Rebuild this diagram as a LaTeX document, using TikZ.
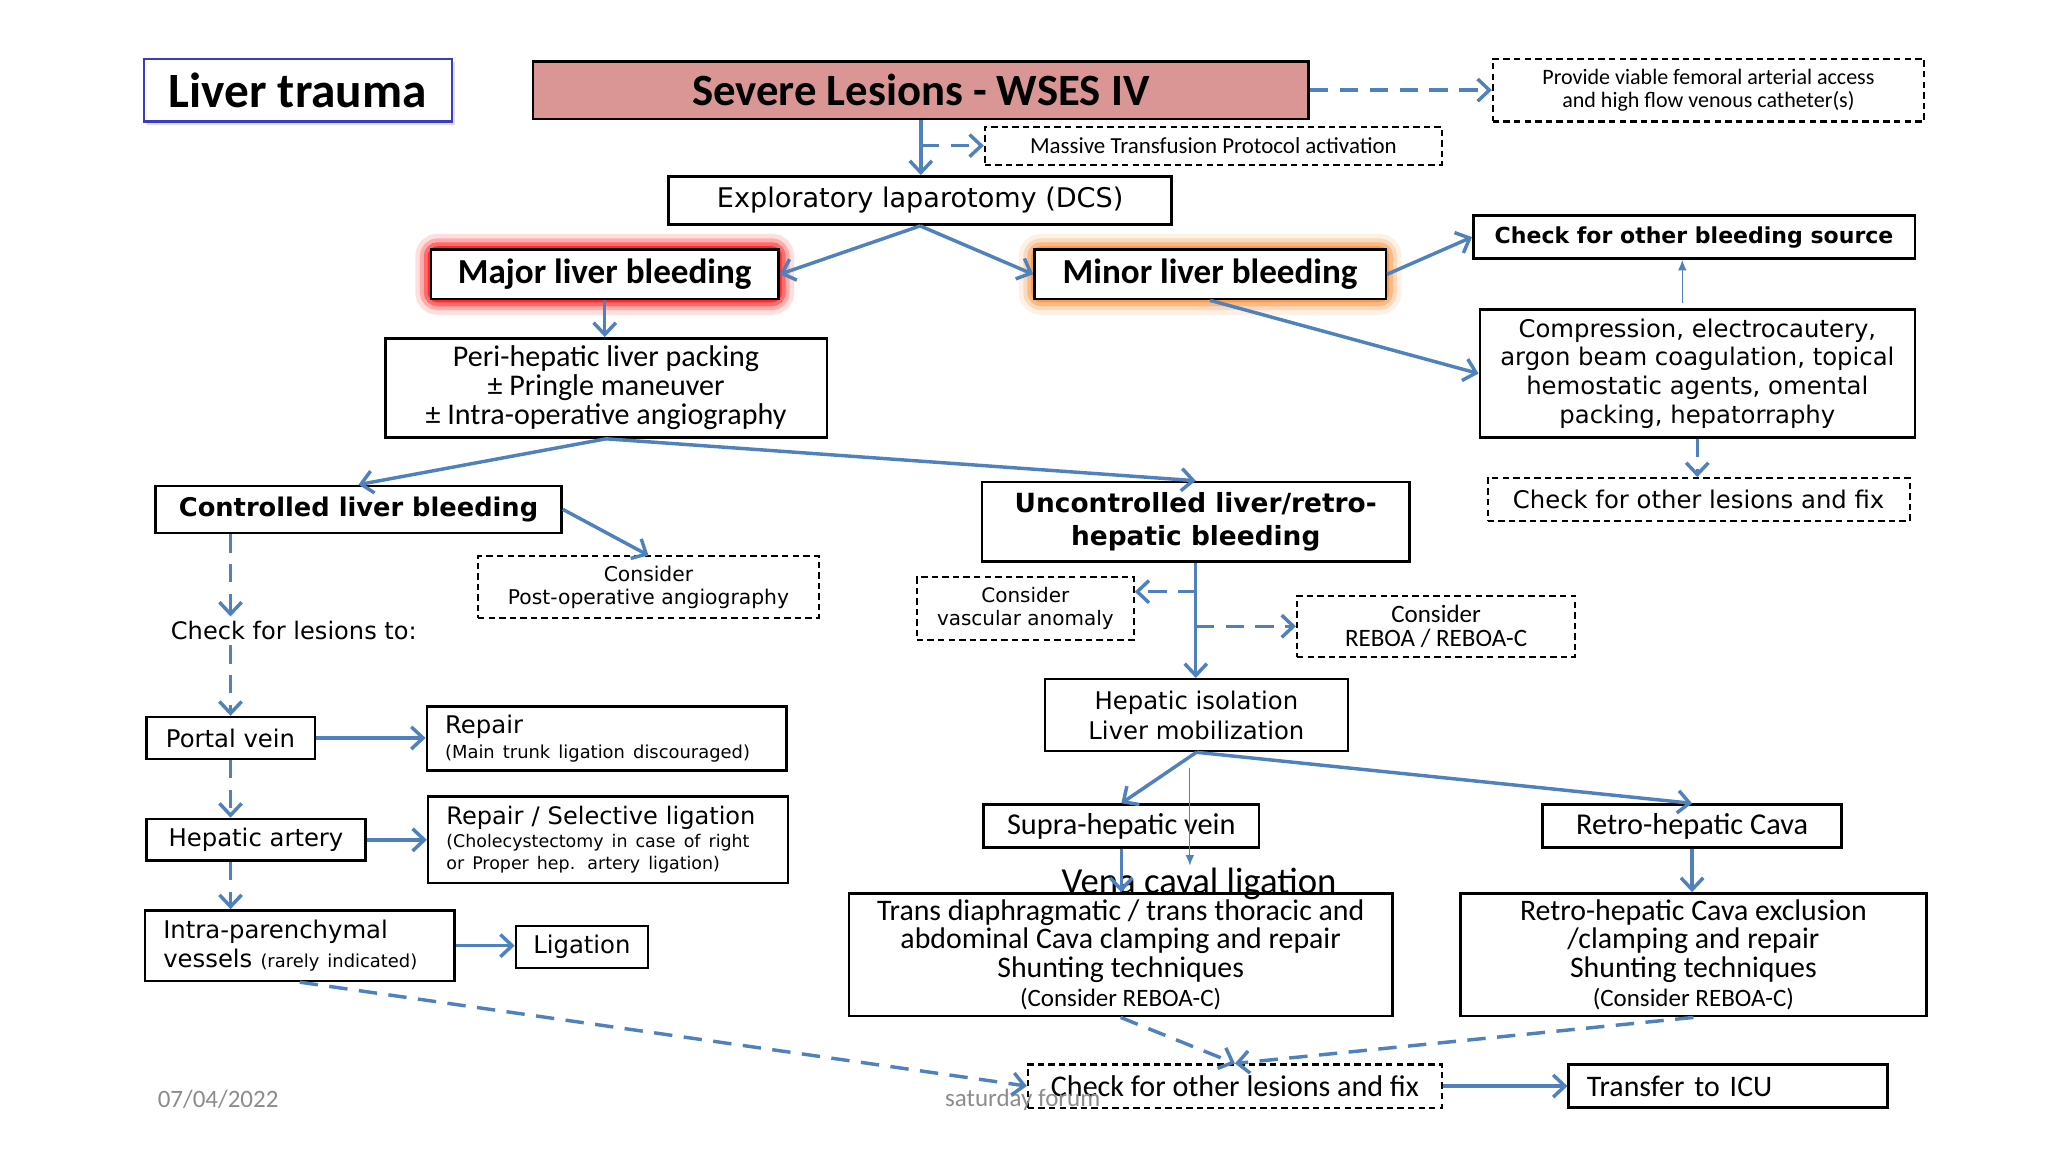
\documentclass[tikz,border=0pt]{standalone}
\usepackage{fontspec}
\setmainfont{Carlito}
\newfontfamily\verdfont{DejaVu Sans}
\usetikzlibrary{arrows.meta,positioning,shadows}
\definecolor{trInk}{HTML}{000000}
\definecolor{trBlue}{HTML}{4F81BD}
\definecolor{trRose}{HTML}{D99694}
\definecolor{trTitle}{HTML}{3B3BC8}
\definecolor{trRed}{HTML}{FF1A1A}
\definecolor{trOrange}{HTML}{F79646}
\definecolor{trGray}{HTML}{8C8C8C}
\newcommand\fsz[2]{\fontsize{#1}{#2}\selectfont}
\tikzset{
  every picture/.style={text=trInk},
  wh/.style 2 args={minimum width=#1*0.02cm, minimum height=#2*0.02cm},
  tr box/.style={draw=trInk, line width=1.1pt, fill=white, align=center, inner sep=0pt},
  tr dashbox/.style={draw=trInk, line width=0.9pt, dash pattern=on 2.8pt off 1.8pt,
    align=center, inner sep=0pt},
  tr leftbox/.style={tr box, align=left, inner xsep=0.28cm, text width=#1},
  tr title/.style={draw=trTitle, line width=0.9pt, fill=white, inner sep=0pt,
    drop shadow={shadow xshift=1.5pt, shadow yshift=-1.5pt, fill=trTitle!30, opacity=0.5}},
  tr arrow/.style={-{Straight Barb[length=1.8mm,width=3.4mm]},
    draw=trBlue, line width=1.5pt},
  tr dash arrow/.style={tr arrow, dash pattern=on 8pt off 5pt},
  tr thin/.style={-{Latex[length=1.6mm,width=1.3mm]}, draw=trBlue, line width=0.5pt},
  tr foot/.style={text=trGray, font=\fsz{10.9}{12}}
}
\begin{document}
\begin{tikzpicture}[x=0.02cm,y=-0.02cm]
  \fill[white] (0,0) rectangle (1568,882);
  \useasboundingbox (0,0) rectangle (1568,882);
  % glow round the two bleeding boxes
  \foreach \w/\o in {24/0.14,17/0.25,11/0.45,5/0.8}{
    \draw[trRed, line width=\w*0.02cm, opacity=\o, rounded corners=3pt] (330,191) rectangle (596,229);
    \draw[trOrange, line width=\w*0.02cm, opacity=\o, rounded corners=3pt] (792,191) rectangle (1061,229);
  }

  \node[tr title, wh={236}{48}, font=\fsz{21.5}{24}\bfseries] (title) at (228,69) {Liver trauma};
  \node[tr box, fill=trRose, wh={594}{44}, font=\fsz{19.5}{22}\bfseries] (severe) at (705,69) {Severe Lesions - WSES IV};
  \node[tr dashbox, wh={330}{48}, font=\fsz{9.6}{10.2}] (femoral) at (1308,69) {Provide viable femoral arterial access\\and high flow venous catheter(s)};
  \node[tr dashbox, wh={350}{29}, font=\fsz{10}{12}] (mtp) at (929,111.5) {Massive Transfusion Protocol activation};
  \node[tr box, wh={385}{37}, font=\verdfont\fsz{11.8}{14}] (explap) at (704.5,153.5) {Exploratory laparotomy (DCS)};
  \node[tr box, wh={266}{38}, font=\fsz{15.3}{18}\bfseries] (major) at (463,210) {Major liver bleeding};
  \node[tr box, wh={269}{38}, font=\fsz{15.3}{18}\bfseries] (minor) at (926.5,210) {Minor liver bleeding};
  \node[tr box, wh={338}{33}, font=\verdfont\fsz{9.6}{12}\bfseries] (bleedsrc) at (1297,181.5) {Check for other bleeding source};
  \node[tr box, wh={333}{98}, font=\verdfont\fsz{10.6}{12.5}] (compr) at (1299.5,286) {Compression, electrocautery,\\argon beam coagulation, topical\\hemostatic agents, omental\\packing, hepatorraphy};
  \node[tr dashbox, wh={323}{33}, font=\verdfont\fsz{10.6}{12}] (fixtop) at (1300.5,382.5) {Check for other lesions and fix};
  \node[tr box, wh={338}{76}, font=\fsz{13.1}{12.6}] (peri) at (464,297) {Peri-hepatic liver packing\\± Pringle maneuver\\± Intra-operative angiography};

  \node[tr box, wh={311}{36}, font=\verdfont\fsz{11.2}{13}\bfseries] (ctrl) at (274.5,390) {Controlled liver bleeding};
  \node[tr dashbox, wh={261}{47}, font=\verdfont\fsz{8.85}{10.2}] (postop) at (496.5,449.5) {Consider\\Post-operative angiography};
  \node[anchor=west, inner sep=2pt, font=\verdfont\fsz{10.5}{12}] (checkto) at (127,483) {Check for lesions to:};
  \node[tr box, wh={129}{32}, font=\verdfont\fsz{10.6}{12}] (portal) at (176.5,565) {Portal vein};
  \node[tr leftbox=4.95cm, wh={273}{49}, font=\verdfont\fsz{10.6}{11.3}] (repair1) at (464.5,565.5) {Repair\\{\fsz{7.8}{11.3}(Main trunk ligation discouraged)}};
  \node[tr box, wh={168}{32}, font=\verdfont\fsz{10.6}{12}] (hartery) at (196,643) {Hepatic artery};
  \node[tr leftbox=4.95cm, wh={271}{66}, font=\verdfont\fsz{10.5}{9.8}] (repair2) at (465.5,643) {Repair / Selective ligation\\{\fsz{7.6}{9.8}(Cholecystectomy in case of right}\\{\fsz{7.6}{9.8}or Proper hep. artery ligation)}};
  \node[tr leftbox=4.18cm, wh={237}{54}, font=\verdfont\fsz{10.6}{12.8}] (intra) at (229.5,724) {Intra-parenchymal\\vessels {\fsz{7.8}{12.8}(rarely indicated)}};
  \node[tr box, wh={101}{32}, font=\verdfont\fsz{10.6}{12}] (ligation) at (445.5,725) {Ligation};

  \node[tr box, wh={327}{61}, font=\verdfont\fsz{11.5}{14.7}\bfseries] (unctrl) at (915.5,399.5) {Uncontrolled liver/retro-\\hepatic bleeding};
  \node[tr dashbox, wh={166}{48}, font=\verdfont\fsz{8.7}{10.2}] (vascular) at (785,466) {Consider\\vascular anomaly};
  \node[tr dashbox, wh={213}{47}, font=\fsz{10.9}{10.2}] (reboa) at (1099.5,479.5) {Consider\\REBOA / REBOA-C};
  \node[tr box, wh={232}{55}, font=\verdfont\fsz{10.6}{13}] (isol) at (916,547.5) {Hepatic isolation\\Liver mobilization};
  \node[tr box, wh={211}{33}, font=\fsz{13.2}{15}] (supra) at (858.5,632.5) {Supra-hepatic vein};
  \node[tr box, wh={229}{33}, font=\fsz{13.2}{15}] (retro) at (1295.5,632.5) {Retro-hepatic Cava};
  \node[tr box, wh={416}{94}, font=\fsz{13}{12.6}] (trans) at (858,731) {Trans diaphragmatic / trans thoracic and\\abdominal Cava clamping and repair\\Shunting techniques\\{\fsz{10.9}{12.6}(Consider REBOA-C)}};
  \node[tr box, wh={357}{94}, font=\fsz{13}{12.6}] (retroex) at (1296.5,731) {Retro-hepatic Cava exclusion\\/clamping and repair\\Shunting techniques\\{\fsz{10.9}{12.6}(Consider REBOA-C)}};
  \node[inner sep=1pt, font=\fsz{16}{18}] (vena) at (918,677) {Vena caval ligation};
  \node[tr dashbox, wh={317}{33}, font=\fsz{13.1}{15}] (fixbot) at (945.5,831.5) {Check for other lesions and fix};
  \node[tr leftbox=4.32cm, wh={244}{33}, font=\fsz{13}{15}] (icu) at (1323,831.5) {Transfer to ICU};

  \node[tr foot] (date) at (167,842) {07/04/2022};
  \node[tr foot] (forum) at (783,842) {saturday forum};

  % connectors
  \draw[tr dash arrow] (severe.east) -- (femoral.west);
  \draw[tr arrow] (severe.south) -- (severe.south |- explap.north);
  \coordinate (mtpfork) at (severe.south |- mtp.west);
  \draw[tr dash arrow] (mtpfork) -- (mtp.west);
  \draw[tr arrow] (explap.south) -- (major.east);
  \draw[tr arrow] (explap.south) -- (minor.west);
  \draw[tr arrow] (minor.east) -- (bleedsrc.west);
  \draw[tr arrow] (minor.south) -- (compr.west);
  \coordinate (cmptop) at (1288,232);
  \draw[tr thin] (cmptop) -- (cmptop |- bleedsrc.south);
  \draw[tr dash arrow] (compr.south) -- (compr.south |- fixtop.north);
  \draw[tr arrow] (major.south) -- (major.south |- peri.north);
  \draw[tr arrow] (peri.south) -- (ctrl.north);
  \draw[tr arrow] (peri.south) -- (unctrl.north);
  \draw[tr arrow] (ctrl.east) -- (postop.north);
  \draw[tr dash arrow] (ctrl.south -| portal.north) -- (checkto.north -| portal.north);
  \draw[tr dash arrow] (checkto.south -| portal.north) -- (portal.north);
  \draw[tr arrow] (portal.east) -- (portal.east -| repair1.west);
  \draw[tr dash arrow] (portal.south) -- (portal.south |- hartery.north);
  \draw[tr arrow] (hartery.east) -- (hartery.east -| repair2.west);
  \draw[tr dash arrow] (portal.south |- hartery.south) -- (portal.south |- intra.north);
  \draw[tr arrow] (intra.east) -- (intra.east -| ligation.west);
  \draw[tr dash arrow] (intra.south) -- (fixbot.west);
  \draw[tr arrow] (unctrl.south) -- (unctrl.south |- isol.north);
  \coordinate (vasfork) at (916,453);
  \draw[tr dash arrow] (vasfork) -- (vasfork -| vascular.east);
  \draw[tr dash arrow] (unctrl.south |- reboa.west) -- (reboa.west);
  \draw[tr arrow] (isol.south) -- (supra.north);
  \draw[tr arrow] (isol.south) -- (retro.north);
  \coordinate (vcfork) at (911,588);
  \draw[tr thin] (vcfork) -- (vcfork |- vena.north);
  \draw[tr arrow] (supra.south) -- (supra.south |- trans.north);
  \draw[tr arrow] (retro.south) -- (retro.south |- retroex.north);
  \draw[tr dash arrow] (trans.south) -- (fixbot.north);
  \draw[tr dash arrow] (retroex.south) -- (fixbot.north);
  \draw[tr arrow] (fixbot.east) -- (fixbot.east -| icu.west);
\end{tikzpicture}
\end{document}
